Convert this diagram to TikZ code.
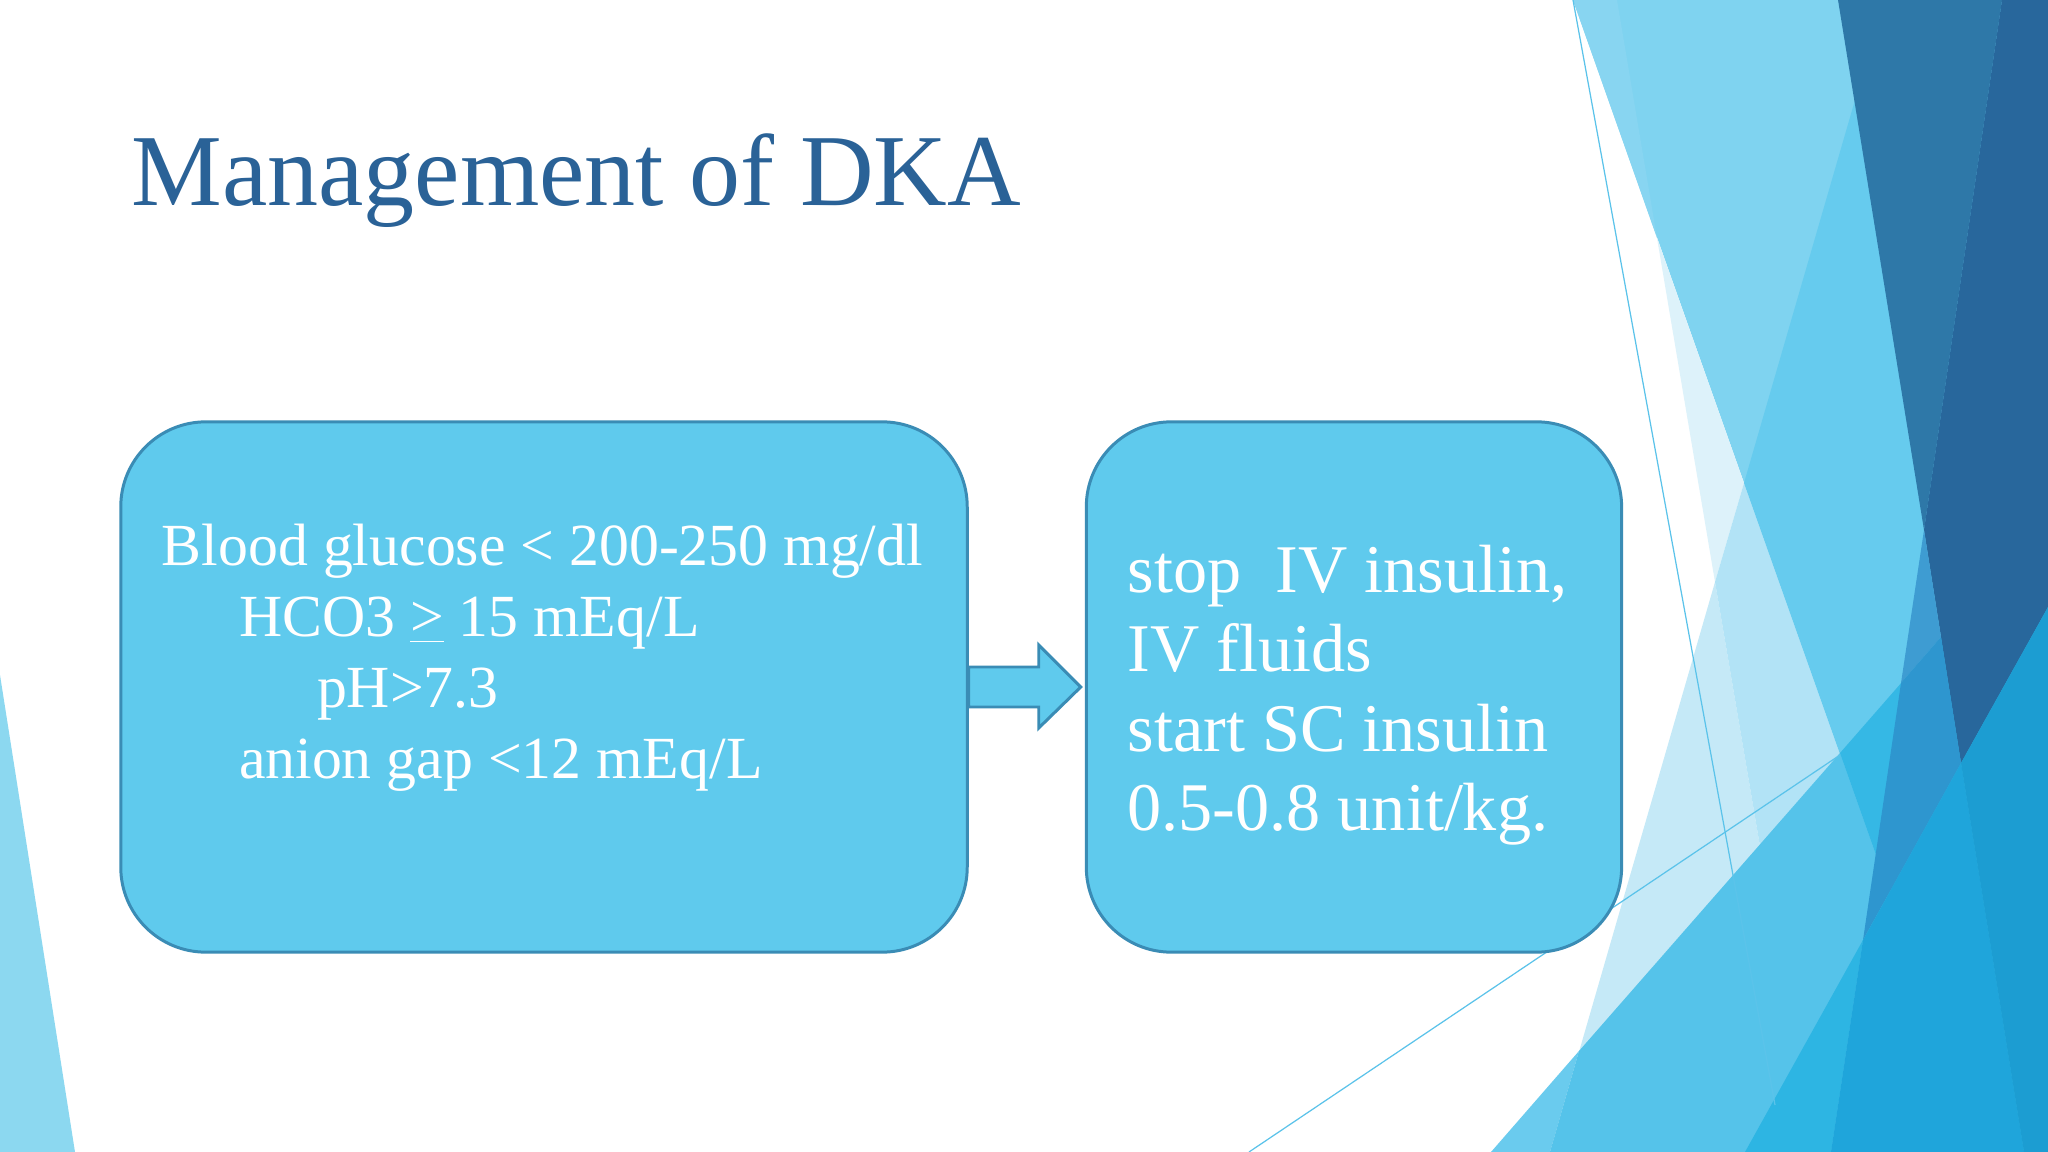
\documentclass[tikz,border=0pt]{standalone}
\usepackage{fontspec}
\setmainfont{Liberation Serif}
\usetikzlibrary{positioning}

\definecolor{titleblue}{HTML}{2A6297}
\definecolor{boxfill}{HTML}{5FCAED}
\definecolor{boxline}{HTML}{3A8CB5}
\definecolor{wispline}{HTML}{5BC3EA}
\definecolor{sliverleft}{HTML}{8CD8F0}
\definecolor{shardsliver}{HTML}{88D5F1}
\definecolor{shardlight}{HTML}{7FD3F0}
\definecolor{shardpale}{HTML}{DDF2FA}
\definecolor{shardice}{HTML}{C5E9F7}
\definecolor{shardmist}{HTML}{B2E3F6}
\definecolor{shardmid}{HTML}{66CBEE}
\definecolor{shardsoft}{HTML}{6ACBEE}
\definecolor{shardsea}{HTML}{55C3EA}
\definecolor{shardbright}{HTML}{35B8E5}
\definecolor{sharddeep}{HTML}{2E78A8}
\definecolor{sharddark}{HTML}{28679C}
\definecolor{shardsteel}{HTML}{3E9CD2}
\definecolor{shardocean}{HTML}{2E96CF}
\definecolor{shardcyan}{HTML}{2DB5E3}
\definecolor{shardazure}{HTML}{1FA5DB}
\definecolor{shardblue}{HTML}{1C9DD2}

\tikzset{
  box/.style={draw=boxline, fill=boxfill, line width=0.85pt,
    rounded corners=0.85cm, minimum height=5.3cm, inner sep=0pt},
  boxtext/.style={text=white, align=left, inner sep=0pt, anchor=base west},
  flow/.style={draw=boxline, fill=boxfill, line width=0.85pt},
  wisp/.style={draw=wispline, line width=0.35pt},
}

\begin{document}
\begin{tikzpicture}[x=0.01cm, y=-0.01cm]
\useasboundingbox (0,0) rectangle (2048,1152);
\fill[white] (0,0) rectangle (2048,1152);

% left sliver
\fill[sliverleft] (0,675) -- (75,1152) -- (0,1152) -- cycle;

% right shards
\fill[shardlight] (1573,0) -- (2048,0) -- (2048,1152) -- (1981,1152) -- cycle;
\fill[shardsliver] (1573,0) -- (1617,0) -- (1657,238) -- cycle;
\fill[shardpale] (1657,238) -- (1744,483) -- (1715,582) -- cycle;
\fill[shardice] (1715,582) -- (1550,1152) -- (1812,1152) -- cycle;
\fill[shardmist] (1744,483) -- (1715,582) -- (1812,1152) -- (1981,1152) -- cycle;
\fill[shardmid] (1884,0) -- (1744,483) -- (1981,1152) -- (2048,1152) -- (2048,0) -- cycle;
\fill[shardsoft] (1579,1051) -- (1491,1152) -- (1550,1152) -- cycle;
\fill[shardsea] (1579,1051) -- (1840,753) -- (1981,1152) -- (1550,1152) -- cycle;
\fill[shardbright] (1840,753) -- (2048,515) -- (2048,1152) -- (1981,1152) -- cycle;
\fill[sharddeep] (1838,0) -- (2002,0) -- (1924,530) -- cycle;
\fill[sharddark] (2002,0) -- (2048,0) -- (2048,607) -- (1961,763) -- (1924,530) -- cycle;
\fill[shardsteel] (1924,530) -- (1941,637) -- (1901,683) -- cycle;
\fill[shardocean] (1901,683) -- (1941,637) -- (1961,763) -- (1863,940) -- cycle;
\fill[shardcyan] (1863,940) -- (1745,1152) -- (1831,1152) -- cycle;
\fill[shardazure] (1863,940) -- (1831,1152) -- (2024,1152) -- (1961,763) -- cycle;
\fill[shardblue] (1961,763) -- (2048,607) -- (2048,1152) -- (2024,1152) -- cycle;
\draw[wisp] (1573,0) -- (1775,1105);
\draw[wisp] (1249,1152) -- (1840,755);

% title
\node[anchor=base west, inner sep=0pt, text=titleblue,
  font=\fontsize{29}{35}\selectfont] (title) at (131,206) {Management of DKA};

% boxes
\node[box, minimum width=8.46cm] (lbox) at (544,687) {};
\node[box, minimum width=5.35cm, right=1.16cm of lbox] (rbox) {};

% text is placed by its last baseline
\node[boxtext, font=\fontsize{17}{20.2}\selectfont] (crit)
  at ([xshift=0.42cm, yshift=-3.58cm]lbox.north west)
  {Blood glucose < 200-250 mg/dl\\
   \hspace*{0.77cm}HCO3 \underline{>} 15 mEq/L\\
   \hspace*{1.55cm}pH>7.3\\
   \hspace*{0.77cm}anion gap <12 mEq/L};
\node[boxtext, font=\fontsize{19.4}{22.6}\selectfont] (plan)
  at ([xshift=0.42cm, yshift=-4.10cm]rbox.north west)
  {stop~~IV insulin,\\
   IV fluids\\
   start SC insulin\\
   0.5-0.8 unit/kg.};

% arrow
\draw[flow] (lbox.east) ++(0,-20) -- ++(70,0) -- ++(0,-22) -- ++(42,42)
  -- ++(-42,41) -- ++(0,-21) -- ++(-70,0) -- cycle;
\end{tikzpicture}
\end{document}
